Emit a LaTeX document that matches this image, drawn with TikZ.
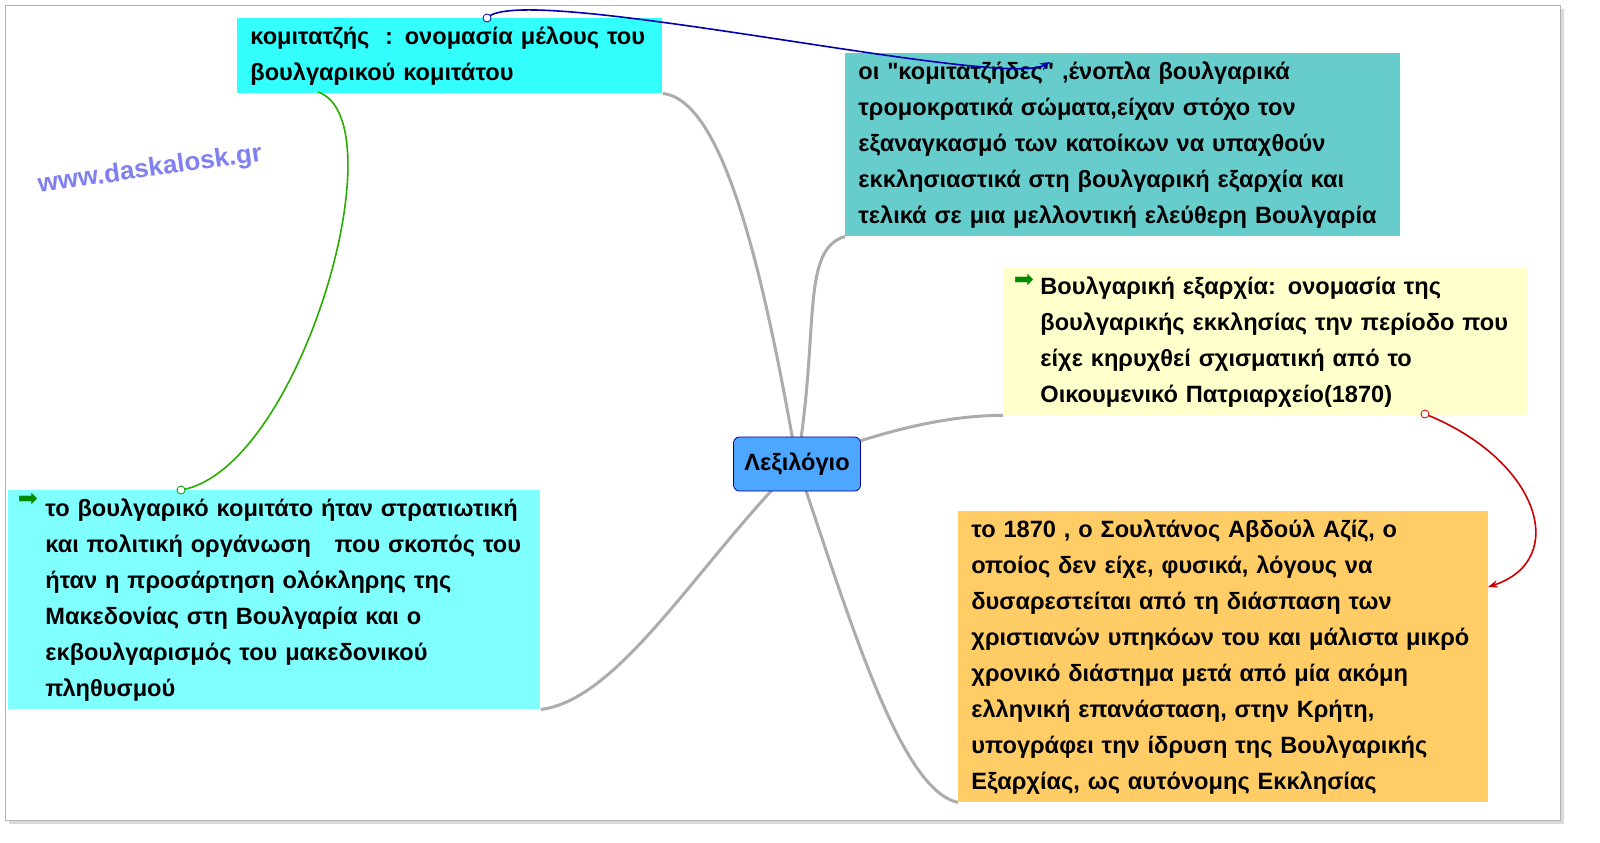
\documentclass[tikz,border=0pt]{standalone}
\usepackage{fontspec}
\setmainfont{Liberation Sans}
\newfontfamily\symfont{DejaVu Sans}
\usetikzlibrary{arrows.meta,backgrounds}
\definecolor{kcyan}{HTML}{33FFFF}
\definecolor{kteal}{HTML}{66CCCC}
\definecolor{kyellow}{HTML}{FFFFCC}
\definecolor{kaqua}{HTML}{80FFFF}
\definecolor{korange}{HTML}{FFCC66}
\definecolor{kblue}{HTML}{4DA6FF}
\definecolor{kwater}{HTML}{8080F0}
\tikzset{leaf/.style = {
    anchor = north west,
    inner xsep = 6.5pt,
    inner ysep = 4pt,
    align = left,
    font = \fontsize{11.8}{18}\selectfont\bfseries
}}
\tikzset{branch/.style = {
    line width = 1.5pt,
    gray!65
}}
\tikzset{icon/.style = {
    text = green!55!black,
    font = \symfont\large
}}

\begin{document}
\begin{tikzpicture}[x = 0.5pt, y = -0.5pt]
    \useasboundingbox (0, 0) rectangle (1600, 842);

    % Nodes
    \node [leaf, fill = kcyan, text width = 199.5pt, minimum height = 37pt]
        (komitis) at (237, 18)
        {κομιτατζής \ : ονομασία μέλους του\\βουλγαρικού κομιτάτου};
    \node [leaf, fill = kteal, text width = 264.5pt, minimum height = 91pt]
        (komites) at (845, 53)
        {οι \textquotedbl κομιτατζήδες\textquotedbl\ ,ένοπλα βουλγαρικά\\τρομοκρατικά σώματα,είχαν στόχο τον\\εξαναγκασμό των κατοίκων να υπαχθούν\\εκκλησιαστικά στη βουλγαρική εξαρχία και\\τελικά σε μια μελλοντική ελεύθερη Βουλγαρία};
    \node [leaf, fill = kyellow, text width = 249pt, minimum height = 72.5pt]
        (exarchia) at (1003, 268)
        {\hspace*{12pt}Βουλγαρική εξαρχία: ονομασία της\\\hspace*{12pt}βουλγαρικής εκκλησίας την περίοδο που\\\hspace*{12pt}είχε κηρυχθεί σχισματική από το\\\hspace*{12pt}Οικουμενικό Πατριαρχείο(1870)};
    \node [leaf, fill = kaqua, text width = 253pt, minimum height = 108.5pt]
        (komitato) at (8, 490)
        {\hspace*{12pt}το βουλγαρικό κομιτάτο ήταν στρατιωτική\\\hspace*{12pt}και πολιτική οργάνωση \ \ που σκοπός του\\\hspace*{12pt}ήταν η προσάρτηση ολόκληρης της\\\hspace*{12pt}Μακεδονίας στη Βουλγαρία και ο\\\hspace*{12pt}εκβουλγαρισμός του μακεδονικού\\\hspace*{12pt}πληθυσμού};
    \node [leaf, fill = korange, text width = 252pt, minimum height = 144.5pt]
        (soultanos) at (958, 511)
        {το 1870 , ο Σουλτάνος Αβδούλ Αζίζ, ο\\οποίος δεν είχε, φυσικά, λόγους να\\δυσαρεστείται από τη διάσπαση των\\χριστιανών υπηκόων του και μάλιστα μικρό\\χρονικό διάστημα μετά από μία ακόμη\\ελληνική επανάσταση, στην Κρήτη,\\υπογράφει την ίδρυση της Βουλγαρικής\\Εξαρχίας, ως αυτόνομης Εκκλησίας};
    \node [draw = blue!60!black, fill = kblue, rounded corners = 3pt,
        minimum width = 63.5pt, minimum height = 27pt,
        font = \fontsize{11.8}{14}\selectfont\bfseries]
        (lexiko) at (797, 464) {Λεξιλόγιο};

    % Icons
    \node [icon] (iconA) at (28, 500) {➡};
    \node [icon] (iconB) at (1024, 281) {➡};

    % Watermark
    \node [text = kwater, rotate = 8, font = \fontsize{13}{15}\selectfont\bfseries]
        (site) at (150, 170) {www.daskalosk.gr};

    % Frame and branches
    \begin{scope}[on background layer]
        \fill [gray!30] (9, 9) rectangle (1564, 824);
        \draw [gray!60, fill = white] (5, 5) rectangle (1560, 820);
        \draw [branch] (lexiko.center) .. controls (760, 250) and (720, 100) .. (komitis.south east);
        \draw [branch] (lexiko.center) .. controls (820, 330) and (800, 250) .. (komites.south west);
        \draw [branch] (lexiko.center) .. controls (880, 430) and (950, 415) .. (exarchia.south west);
        \draw [branch] (lexiko.center) .. controls (700, 560) and (620, 700) .. (komitato.south east);
        \draw [branch] (lexiko.center) .. controls (850, 620) and (900, 790) .. (soultanos.south west);
    \end{scope}

    % Links
    \coordinate (blueA) at (487, 18);
    \coordinate (blueB) at (1050, 62);
    \draw [blue!70!black, line width = 0.8pt, -{Stealth[length = 5pt]}]
        (blueA) .. controls (520, -20) and (1000, 90) .. (blueB);
    \draw [blue!70!black, fill = white] (blueA) circle (4);
    \coordinate (greenA) at (318, 92);
    \coordinate (greenB) at (181, 490);
    \draw [green!60!black!80!lime, line width = 0.8pt]
        (greenA) .. controls (400, 120) and (300, 470) .. (greenB);
    \draw [green!60!black, fill = white] (greenB) circle (4);
    \coordinate (redA) at (1425, 414);
    \coordinate (redB) at (1488, 587);
    \draw [red!80!black, line width = 0.8pt, -{Stealth[length = 5pt]}]
        (redA) .. controls (1540, 460) and (1570, 560) .. (redB);
    \draw [red!80!black, fill = white] (redA) circle (4);

\end{tikzpicture}
\end{document}
